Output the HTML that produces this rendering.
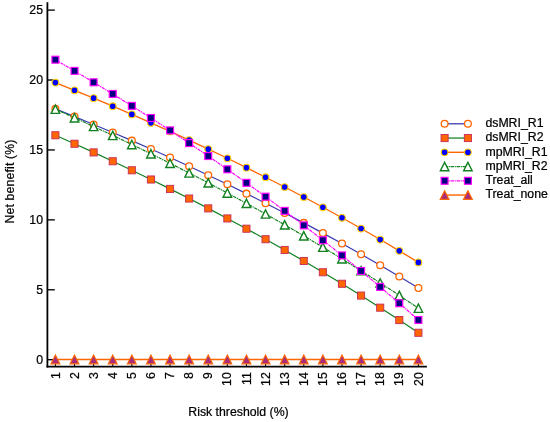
<!DOCTYPE html><html><head><meta charset="utf-8"><title>Decision curve</title><style>html,body{margin:0;padding:0;background:#fff}svg{display:block}text{font-family:"Liberation Sans",sans-serif;font-size:12.3px;fill:#000;stroke:#000;stroke-width:0.22px}</style></head><body>
<svg width="550" height="422" viewBox="0 0 550 422">
<rect width="550" height="422" fill="#fff"/>
<g stroke="#000" fill="none">
<line x1="47.4" y1="2.3" x2="47.4" y2="367.5" stroke-width="1.8"/>
<line x1="46.55" y1="366.65" x2="426.9" y2="366.65" stroke-width="1.7"/>
<line x1="47.35" y1="359.70" x2="54.8" y2="359.70" stroke-width="1.35"/>
<line x1="47.35" y1="289.78" x2="54.8" y2="289.78" stroke-width="1.35"/>
<line x1="47.35" y1="219.86" x2="54.8" y2="219.86" stroke-width="1.35"/>
<line x1="47.35" y1="149.94" x2="54.8" y2="149.94" stroke-width="1.35"/>
<line x1="47.35" y1="80.02" x2="54.8" y2="80.02" stroke-width="1.35"/>
<line x1="47.35" y1="10.10" x2="54.8" y2="10.10" stroke-width="1.35"/>
<line x1="55.40" y1="366" x2="55.40" y2="360.5" stroke-width="1.1"/>
<line x1="74.51" y1="366" x2="74.51" y2="360.5" stroke-width="1.1"/>
<line x1="93.61" y1="366" x2="93.61" y2="360.5" stroke-width="1.1"/>
<line x1="112.72" y1="366" x2="112.72" y2="360.5" stroke-width="1.1"/>
<line x1="131.82" y1="366" x2="131.82" y2="360.5" stroke-width="1.1"/>
<line x1="150.93" y1="366" x2="150.93" y2="360.5" stroke-width="1.1"/>
<line x1="170.03" y1="366" x2="170.03" y2="360.5" stroke-width="1.1"/>
<line x1="189.14" y1="366" x2="189.14" y2="360.5" stroke-width="1.1"/>
<line x1="208.24" y1="366" x2="208.24" y2="360.5" stroke-width="1.1"/>
<line x1="227.35" y1="366" x2="227.35" y2="360.5" stroke-width="1.1"/>
<line x1="246.45" y1="366" x2="246.45" y2="360.5" stroke-width="1.1"/>
<line x1="265.56" y1="366" x2="265.56" y2="360.5" stroke-width="1.1"/>
<line x1="284.66" y1="366" x2="284.66" y2="360.5" stroke-width="1.1"/>
<line x1="303.77" y1="366" x2="303.77" y2="360.5" stroke-width="1.1"/>
<line x1="322.87" y1="366" x2="322.87" y2="360.5" stroke-width="1.1"/>
<line x1="341.98" y1="366" x2="341.98" y2="360.5" stroke-width="1.1"/>
<line x1="361.08" y1="366" x2="361.08" y2="360.5" stroke-width="1.1"/>
<line x1="380.19" y1="366" x2="380.19" y2="360.5" stroke-width="1.1"/>
<line x1="399.29" y1="366" x2="399.29" y2="360.5" stroke-width="1.1"/>
<line x1="418.40" y1="366" x2="418.40" y2="360.5" stroke-width="1.1"/>
</g>
<text x="43" y="363.60" text-anchor="end">0</text>
<text x="43" y="293.68" text-anchor="end">5</text>
<text x="43" y="223.76" text-anchor="end">10</text>
<text x="43" y="153.84" text-anchor="end">15</text>
<text x="43" y="83.92" text-anchor="end">20</text>
<text x="43" y="14.00" text-anchor="end">25</text>
<text transform="translate(59.50,372.2) rotate(-90)" text-anchor="end">1</text>
<text transform="translate(78.61,372.2) rotate(-90)" text-anchor="end">2</text>
<text transform="translate(97.71,372.2) rotate(-90)" text-anchor="end">3</text>
<text transform="translate(116.82,372.2) rotate(-90)" text-anchor="end">4</text>
<text transform="translate(135.92,372.2) rotate(-90)" text-anchor="end">5</text>
<text transform="translate(155.03,372.2) rotate(-90)" text-anchor="end">6</text>
<text transform="translate(174.13,372.2) rotate(-90)" text-anchor="end">7</text>
<text transform="translate(193.24,372.2) rotate(-90)" text-anchor="end">8</text>
<text transform="translate(212.34,372.2) rotate(-90)" text-anchor="end">9</text>
<text transform="translate(231.45,372.2) rotate(-90)" text-anchor="end">10</text>
<text transform="translate(250.55,372.2) rotate(-90)" text-anchor="end">11</text>
<text transform="translate(269.66,372.2) rotate(-90)" text-anchor="end">12</text>
<text transform="translate(288.76,372.2) rotate(-90)" text-anchor="end">13</text>
<text transform="translate(307.87,372.2) rotate(-90)" text-anchor="end">14</text>
<text transform="translate(326.97,372.2) rotate(-90)" text-anchor="end">15</text>
<text transform="translate(346.08,372.2) rotate(-90)" text-anchor="end">16</text>
<text transform="translate(365.18,372.2) rotate(-90)" text-anchor="end">17</text>
<text transform="translate(384.29,372.2) rotate(-90)" text-anchor="end">18</text>
<text transform="translate(403.39,372.2) rotate(-90)" text-anchor="end">19</text>
<text transform="translate(422.50,372.2) rotate(-90)" text-anchor="end">20</text>
<text transform="translate(13.5,181.5) rotate(-90)" text-anchor="middle" letter-spacing="0.14">Net benefit (%)</text>
<text x="238.5" y="416.4" text-anchor="middle">Risk threshold (%)</text>
<polyline points="55.40,108.90 74.51,116.60 93.61,124.45 112.72,132.47 131.82,140.65 150.93,149.02 170.03,157.56 189.14,166.28 208.24,175.20 227.35,184.32 246.45,193.64 265.56,203.17 284.66,212.92 303.77,222.90 322.87,233.11 341.98,243.57 361.08,254.28 380.19,265.25 399.29,276.49 418.40,288.01" fill="none" stroke="#3A3AB0" stroke-width="1.2"/>
<circle cx="55.40" cy="108.90" r="3.4" fill="#fff" stroke="#FF6600" stroke-width="1.3"/><circle cx="74.51" cy="116.60" r="3.4" fill="#fff" stroke="#FF6600" stroke-width="1.3"/><circle cx="93.61" cy="124.45" r="3.4" fill="#fff" stroke="#FF6600" stroke-width="1.3"/><circle cx="112.72" cy="132.47" r="3.4" fill="#fff" stroke="#FF6600" stroke-width="1.3"/><circle cx="131.82" cy="140.65" r="3.4" fill="#fff" stroke="#FF6600" stroke-width="1.3"/><circle cx="150.93" cy="149.02" r="3.4" fill="#fff" stroke="#FF6600" stroke-width="1.3"/><circle cx="170.03" cy="157.56" r="3.4" fill="#fff" stroke="#FF6600" stroke-width="1.3"/><circle cx="189.14" cy="166.28" r="3.4" fill="#fff" stroke="#FF6600" stroke-width="1.3"/><circle cx="208.24" cy="175.20" r="3.4" fill="#fff" stroke="#FF6600" stroke-width="1.3"/><circle cx="227.35" cy="184.32" r="3.4" fill="#fff" stroke="#FF6600" stroke-width="1.3"/><circle cx="246.45" cy="193.64" r="3.4" fill="#fff" stroke="#FF6600" stroke-width="1.3"/><circle cx="265.56" cy="203.17" r="3.4" fill="#fff" stroke="#FF6600" stroke-width="1.3"/><circle cx="284.66" cy="212.92" r="3.4" fill="#fff" stroke="#FF6600" stroke-width="1.3"/><circle cx="303.77" cy="222.90" r="3.4" fill="#fff" stroke="#FF6600" stroke-width="1.3"/><circle cx="322.87" cy="233.11" r="3.4" fill="#fff" stroke="#FF6600" stroke-width="1.3"/><circle cx="341.98" cy="243.57" r="3.4" fill="#fff" stroke="#FF6600" stroke-width="1.3"/><circle cx="361.08" cy="254.28" r="3.4" fill="#fff" stroke="#FF6600" stroke-width="1.3"/><circle cx="380.19" cy="265.25" r="3.4" fill="#fff" stroke="#FF6600" stroke-width="1.3"/><circle cx="399.29" cy="276.49" r="3.4" fill="#fff" stroke="#FF6600" stroke-width="1.3"/><circle cx="418.40" cy="288.01" r="3.4" fill="#fff" stroke="#FF6600" stroke-width="1.3"/>
<polyline points="55.40,135.27 74.51,143.75 93.61,152.41 112.72,161.25 131.82,170.28 150.93,179.50 170.03,188.92 189.14,198.54 208.24,208.38 227.35,218.43 246.45,228.71 265.56,239.22 284.66,249.97 303.77,260.98 322.87,272.24 341.98,283.77 361.08,295.58 380.19,307.67 399.29,320.07 418.40,332.77" fill="none" stroke="#108020" stroke-width="1.25"/>
<rect x="51.85" y="131.72" width="7.1" height="7.1" fill="#FF6600" stroke="#C8305A" stroke-width="0.95"/><rect x="70.96" y="140.20" width="7.1" height="7.1" fill="#FF6600" stroke="#C8305A" stroke-width="0.95"/><rect x="90.06" y="148.86" width="7.1" height="7.1" fill="#FF6600" stroke="#C8305A" stroke-width="0.95"/><rect x="109.17" y="157.70" width="7.1" height="7.1" fill="#FF6600" stroke="#C8305A" stroke-width="0.95"/><rect x="128.27" y="166.73" width="7.1" height="7.1" fill="#FF6600" stroke="#C8305A" stroke-width="0.95"/><rect x="147.38" y="175.95" width="7.1" height="7.1" fill="#FF6600" stroke="#C8305A" stroke-width="0.95"/><rect x="166.48" y="185.37" width="7.1" height="7.1" fill="#FF6600" stroke="#C8305A" stroke-width="0.95"/><rect x="185.59" y="194.99" width="7.1" height="7.1" fill="#FF6600" stroke="#C8305A" stroke-width="0.95"/><rect x="204.69" y="204.83" width="7.1" height="7.1" fill="#FF6600" stroke="#C8305A" stroke-width="0.95"/><rect x="223.80" y="214.88" width="7.1" height="7.1" fill="#FF6600" stroke="#C8305A" stroke-width="0.95"/><rect x="242.90" y="225.16" width="7.1" height="7.1" fill="#FF6600" stroke="#C8305A" stroke-width="0.95"/><rect x="262.01" y="235.67" width="7.1" height="7.1" fill="#FF6600" stroke="#C8305A" stroke-width="0.95"/><rect x="281.11" y="246.42" width="7.1" height="7.1" fill="#FF6600" stroke="#C8305A" stroke-width="0.95"/><rect x="300.22" y="257.43" width="7.1" height="7.1" fill="#FF6600" stroke="#C8305A" stroke-width="0.95"/><rect x="319.32" y="268.69" width="7.1" height="7.1" fill="#FF6600" stroke="#C8305A" stroke-width="0.95"/><rect x="338.43" y="280.22" width="7.1" height="7.1" fill="#FF6600" stroke="#C8305A" stroke-width="0.95"/><rect x="357.53" y="292.03" width="7.1" height="7.1" fill="#FF6600" stroke="#C8305A" stroke-width="0.95"/><rect x="376.64" y="304.12" width="7.1" height="7.1" fill="#FF6600" stroke="#C8305A" stroke-width="0.95"/><rect x="395.74" y="316.52" width="7.1" height="7.1" fill="#FF6600" stroke="#C8305A" stroke-width="0.95"/><rect x="414.85" y="329.22" width="7.1" height="7.1" fill="#FF6600" stroke="#C8305A" stroke-width="0.95"/>
<polyline points="55.40,82.55 74.51,90.28 93.61,98.17 112.72,106.22 131.82,114.44 150.93,122.83 170.03,131.41 189.14,140.17 208.24,149.13 227.35,158.28 246.45,167.64 265.56,177.21 284.66,187.00 303.77,197.02 322.87,207.28 341.98,217.78 361.08,228.53 380.19,239.55 399.29,250.84 418.40,262.41" fill="none" stroke="#FF6600" stroke-width="1.3"/>
<circle cx="55.40" cy="82.55" r="3.35" fill="#0000FF" stroke="#FFD000" stroke-width="1.05"/><circle cx="74.51" cy="90.28" r="3.35" fill="#0000FF" stroke="#FFD000" stroke-width="1.05"/><circle cx="93.61" cy="98.17" r="3.35" fill="#0000FF" stroke="#FFD000" stroke-width="1.05"/><circle cx="112.72" cy="106.22" r="3.35" fill="#0000FF" stroke="#FFD000" stroke-width="1.05"/><circle cx="131.82" cy="114.44" r="3.35" fill="#0000FF" stroke="#FFD000" stroke-width="1.05"/><circle cx="150.93" cy="122.83" r="3.35" fill="#0000FF" stroke="#FFD000" stroke-width="1.05"/><circle cx="170.03" cy="131.41" r="3.35" fill="#0000FF" stroke="#FFD000" stroke-width="1.05"/><circle cx="189.14" cy="140.17" r="3.35" fill="#0000FF" stroke="#FFD000" stroke-width="1.05"/><circle cx="208.24" cy="149.13" r="3.35" fill="#0000FF" stroke="#FFD000" stroke-width="1.05"/><circle cx="227.35" cy="158.28" r="3.35" fill="#0000FF" stroke="#FFD000" stroke-width="1.05"/><circle cx="246.45" cy="167.64" r="3.35" fill="#0000FF" stroke="#FFD000" stroke-width="1.05"/><circle cx="265.56" cy="177.21" r="3.35" fill="#0000FF" stroke="#FFD000" stroke-width="1.05"/><circle cx="284.66" cy="187.00" r="3.35" fill="#0000FF" stroke="#FFD000" stroke-width="1.05"/><circle cx="303.77" cy="197.02" r="3.35" fill="#0000FF" stroke="#FFD000" stroke-width="1.05"/><circle cx="322.87" cy="207.28" r="3.35" fill="#0000FF" stroke="#FFD000" stroke-width="1.05"/><circle cx="341.98" cy="217.78" r="3.35" fill="#0000FF" stroke="#FFD000" stroke-width="1.05"/><circle cx="361.08" cy="228.53" r="3.35" fill="#0000FF" stroke="#FFD000" stroke-width="1.05"/><circle cx="380.19" cy="239.55" r="3.35" fill="#0000FF" stroke="#FFD000" stroke-width="1.05"/><circle cx="399.29" cy="250.84" r="3.35" fill="#0000FF" stroke="#FFD000" stroke-width="1.05"/><circle cx="418.40" cy="262.41" r="3.35" fill="#0000FF" stroke="#FFD000" stroke-width="1.05"/>
<polyline points="55.40,109.20 74.51,117.75 93.61,126.47 112.72,135.38 131.82,144.48 150.93,153.77 170.03,163.26 189.14,172.95 208.24,182.86 227.35,192.99 246.45,203.34 265.56,213.93 284.66,224.77 303.77,235.85 322.87,247.20 341.98,258.82 361.08,270.72 380.19,282.91 399.29,295.39 418.40,308.19" fill="none" stroke="#108020" stroke-width="1.2" stroke-dasharray="3.3 0.75 1.2 0.75"/>
<polygon points="55.40,105.00 59.65,113.40 51.15,113.40" fill="#fff" stroke="#108020" stroke-width="1.4" stroke-linejoin="miter"/><polygon points="74.51,113.55 78.76,121.95 70.26,121.95" fill="#fff" stroke="#108020" stroke-width="1.4" stroke-linejoin="miter"/><polygon points="93.61,122.27 97.86,130.67 89.36,130.67" fill="#fff" stroke="#108020" stroke-width="1.4" stroke-linejoin="miter"/><polygon points="112.72,131.18 116.97,139.58 108.47,139.58" fill="#fff" stroke="#108020" stroke-width="1.4" stroke-linejoin="miter"/><polygon points="131.82,140.28 136.07,148.68 127.57,148.68" fill="#fff" stroke="#108020" stroke-width="1.4" stroke-linejoin="miter"/><polygon points="150.93,149.57 155.18,157.97 146.68,157.97" fill="#fff" stroke="#108020" stroke-width="1.4" stroke-linejoin="miter"/><polygon points="170.03,159.06 174.28,167.46 165.78,167.46" fill="#fff" stroke="#108020" stroke-width="1.4" stroke-linejoin="miter"/><polygon points="189.14,168.75 193.39,177.15 184.89,177.15" fill="#fff" stroke="#108020" stroke-width="1.4" stroke-linejoin="miter"/><polygon points="208.24,178.66 212.49,187.06 203.99,187.06" fill="#fff" stroke="#108020" stroke-width="1.4" stroke-linejoin="miter"/><polygon points="227.35,188.79 231.60,197.19 223.10,197.19" fill="#fff" stroke="#108020" stroke-width="1.4" stroke-linejoin="miter"/><polygon points="246.45,199.14 250.70,207.54 242.20,207.54" fill="#fff" stroke="#108020" stroke-width="1.4" stroke-linejoin="miter"/><polygon points="265.56,209.73 269.81,218.13 261.31,218.13" fill="#fff" stroke="#108020" stroke-width="1.4" stroke-linejoin="miter"/><polygon points="284.66,220.57 288.91,228.97 280.41,228.97" fill="#fff" stroke="#108020" stroke-width="1.4" stroke-linejoin="miter"/><polygon points="303.77,231.65 308.02,240.05 299.52,240.05" fill="#fff" stroke="#108020" stroke-width="1.4" stroke-linejoin="miter"/><polygon points="322.87,243.00 327.12,251.40 318.62,251.40" fill="#fff" stroke="#108020" stroke-width="1.4" stroke-linejoin="miter"/><polygon points="341.98,254.62 346.23,263.02 337.73,263.02" fill="#fff" stroke="#108020" stroke-width="1.4" stroke-linejoin="miter"/><polygon points="361.08,266.52 365.33,274.92 356.83,274.92" fill="#fff" stroke="#108020" stroke-width="1.4" stroke-linejoin="miter"/><polygon points="380.19,278.71 384.44,287.11 375.94,287.11" fill="#fff" stroke="#108020" stroke-width="1.4" stroke-linejoin="miter"/><polygon points="399.29,291.19 403.54,299.59 395.04,299.59" fill="#fff" stroke="#108020" stroke-width="1.4" stroke-linejoin="miter"/><polygon points="418.40,304.00 422.65,312.39 414.15,312.39" fill="#fff" stroke="#108020" stroke-width="1.4" stroke-linejoin="miter"/>
<polyline points="55.40,59.70 74.51,70.88 93.61,82.30 112.72,93.95 131.82,105.85 150.93,118.00 170.03,130.41 189.14,143.09 208.24,156.05 227.35,169.30 246.45,182.84 265.56,196.69 284.66,210.87 303.77,225.37 322.87,240.21 341.98,255.41 361.08,270.97 380.19,286.91 399.29,303.25 418.40,319.99" fill="none" stroke="#FF00FF" stroke-width="1.2" stroke-dasharray="3.3 0.75 1.2 0.75"/>
<rect x="51.95" y="56.25" width="6.9" height="6.9" fill="#000080" stroke="#FF00FF" stroke-width="1.2"/><rect x="71.06" y="67.43" width="6.9" height="6.9" fill="#000080" stroke="#FF00FF" stroke-width="1.2"/><rect x="90.16" y="78.85" width="6.9" height="6.9" fill="#000080" stroke="#FF00FF" stroke-width="1.2"/><rect x="109.27" y="90.50" width="6.9" height="6.9" fill="#000080" stroke="#FF00FF" stroke-width="1.2"/><rect x="128.37" y="102.40" width="6.9" height="6.9" fill="#000080" stroke="#FF00FF" stroke-width="1.2"/><rect x="147.48" y="114.55" width="6.9" height="6.9" fill="#000080" stroke="#FF00FF" stroke-width="1.2"/><rect x="166.58" y="126.96" width="6.9" height="6.9" fill="#000080" stroke="#FF00FF" stroke-width="1.2"/><rect x="185.69" y="139.64" width="6.9" height="6.9" fill="#000080" stroke="#FF00FF" stroke-width="1.2"/><rect x="204.79" y="152.60" width="6.9" height="6.9" fill="#000080" stroke="#FF00FF" stroke-width="1.2"/><rect x="223.90" y="165.85" width="6.9" height="6.9" fill="#000080" stroke="#FF00FF" stroke-width="1.2"/><rect x="243.00" y="179.39" width="6.9" height="6.9" fill="#000080" stroke="#FF00FF" stroke-width="1.2"/><rect x="262.11" y="193.24" width="6.9" height="6.9" fill="#000080" stroke="#FF00FF" stroke-width="1.2"/><rect x="281.21" y="207.42" width="6.9" height="6.9" fill="#000080" stroke="#FF00FF" stroke-width="1.2"/><rect x="300.32" y="221.92" width="6.9" height="6.9" fill="#000080" stroke="#FF00FF" stroke-width="1.2"/><rect x="319.42" y="236.76" width="6.9" height="6.9" fill="#000080" stroke="#FF00FF" stroke-width="1.2"/><rect x="338.53" y="251.96" width="6.9" height="6.9" fill="#000080" stroke="#FF00FF" stroke-width="1.2"/><rect x="357.63" y="267.52" width="6.9" height="6.9" fill="#000080" stroke="#FF00FF" stroke-width="1.2"/><rect x="376.74" y="283.46" width="6.9" height="6.9" fill="#000080" stroke="#FF00FF" stroke-width="1.2"/><rect x="395.84" y="299.80" width="6.9" height="6.9" fill="#000080" stroke="#FF00FF" stroke-width="1.2"/><rect x="414.95" y="316.54" width="6.9" height="6.9" fill="#000080" stroke="#FF00FF" stroke-width="1.2"/>
<polyline points="55.40,359.45 74.51,359.45 93.61,359.45 112.72,359.45 131.82,359.45 150.93,359.45 170.03,359.45 189.14,359.45 208.24,359.45 227.35,359.45 246.45,359.45 265.56,359.45 284.66,359.45 303.77,359.45 322.87,359.45 341.98,359.45 361.08,359.45 380.19,359.45 399.29,359.45 418.40,359.45" fill="none" stroke="#FF6600" stroke-width="1.4"/>
<polygon points="55.40,355.10 59.80,363.80 51.00,363.80" fill="#A82C7C" stroke="#FF6600" stroke-width="1.15" stroke-linejoin="miter"/><polygon points="74.51,355.10 78.91,363.80 70.11,363.80" fill="#A82C7C" stroke="#FF6600" stroke-width="1.15" stroke-linejoin="miter"/><polygon points="93.61,355.10 98.01,363.80 89.21,363.80" fill="#A82C7C" stroke="#FF6600" stroke-width="1.15" stroke-linejoin="miter"/><polygon points="112.72,355.10 117.12,363.80 108.32,363.80" fill="#A82C7C" stroke="#FF6600" stroke-width="1.15" stroke-linejoin="miter"/><polygon points="131.82,355.10 136.22,363.80 127.42,363.80" fill="#A82C7C" stroke="#FF6600" stroke-width="1.15" stroke-linejoin="miter"/><polygon points="150.93,355.10 155.33,363.80 146.53,363.80" fill="#A82C7C" stroke="#FF6600" stroke-width="1.15" stroke-linejoin="miter"/><polygon points="170.03,355.10 174.43,363.80 165.63,363.80" fill="#A82C7C" stroke="#FF6600" stroke-width="1.15" stroke-linejoin="miter"/><polygon points="189.14,355.10 193.54,363.80 184.74,363.80" fill="#A82C7C" stroke="#FF6600" stroke-width="1.15" stroke-linejoin="miter"/><polygon points="208.24,355.10 212.64,363.80 203.84,363.80" fill="#A82C7C" stroke="#FF6600" stroke-width="1.15" stroke-linejoin="miter"/><polygon points="227.35,355.10 231.75,363.80 222.95,363.80" fill="#A82C7C" stroke="#FF6600" stroke-width="1.15" stroke-linejoin="miter"/><polygon points="246.45,355.10 250.85,363.80 242.05,363.80" fill="#A82C7C" stroke="#FF6600" stroke-width="1.15" stroke-linejoin="miter"/><polygon points="265.56,355.10 269.96,363.80 261.16,363.80" fill="#A82C7C" stroke="#FF6600" stroke-width="1.15" stroke-linejoin="miter"/><polygon points="284.66,355.10 289.06,363.80 280.26,363.80" fill="#A82C7C" stroke="#FF6600" stroke-width="1.15" stroke-linejoin="miter"/><polygon points="303.77,355.10 308.17,363.80 299.37,363.80" fill="#A82C7C" stroke="#FF6600" stroke-width="1.15" stroke-linejoin="miter"/><polygon points="322.87,355.10 327.27,363.80 318.47,363.80" fill="#A82C7C" stroke="#FF6600" stroke-width="1.15" stroke-linejoin="miter"/><polygon points="341.98,355.10 346.38,363.80 337.58,363.80" fill="#A82C7C" stroke="#FF6600" stroke-width="1.15" stroke-linejoin="miter"/><polygon points="361.08,355.10 365.48,363.80 356.68,363.80" fill="#A82C7C" stroke="#FF6600" stroke-width="1.15" stroke-linejoin="miter"/><polygon points="380.19,355.10 384.59,363.80 375.79,363.80" fill="#A82C7C" stroke="#FF6600" stroke-width="1.15" stroke-linejoin="miter"/><polygon points="399.29,355.10 403.69,363.80 394.89,363.80" fill="#A82C7C" stroke="#FF6600" stroke-width="1.15" stroke-linejoin="miter"/><polygon points="418.40,355.10 422.80,363.80 414.00,363.80" fill="#A82C7C" stroke="#FF6600" stroke-width="1.15" stroke-linejoin="miter"/>
<polyline points="444.60,123.80 467.90,123.80" fill="none" stroke="#3A3AB0" stroke-width="1.3"/>
<circle cx="444.60" cy="123.80" r="3.4" fill="#fff" stroke="#FF6600" stroke-width="1.3"/><circle cx="467.90" cy="123.80" r="3.4" fill="#fff" stroke="#FF6600" stroke-width="1.3"/>
<text x="485.4" y="127.10">dsMRI_R1</text>
<polyline points="444.60,138.05 467.90,138.05" fill="none" stroke="#108020" stroke-width="1.25"/>
<rect x="441.05" y="134.50" width="7.1" height="7.1" fill="#FF6600" stroke="#C8305A" stroke-width="0.95"/><rect x="464.35" y="134.50" width="7.1" height="7.1" fill="#FF6600" stroke="#C8305A" stroke-width="0.95"/>
<text x="485.4" y="141.35">dsMRI_R2</text>
<polyline points="444.60,152.30 467.90,152.30" fill="none" stroke="#FF6600" stroke-width="1.4"/>
<circle cx="444.60" cy="152.30" r="3.35" fill="#0000FF" stroke="#FFD000" stroke-width="1.05"/><circle cx="467.90" cy="152.30" r="3.35" fill="#0000FF" stroke="#FFD000" stroke-width="1.05"/>
<text x="485.4" y="155.60">mpMRI_R1</text>
<polyline points="444.60,166.55 467.90,166.55" fill="none" stroke="#108020" stroke-width="1.2" stroke-dasharray="3.3 0.75 1.2 0.75"/>
<polygon points="444.60,162.35 448.85,170.75 440.35,170.75" fill="#fff" stroke="#108020" stroke-width="1.4" stroke-linejoin="miter"/><polygon points="467.90,162.35 472.15,170.75 463.65,170.75" fill="#fff" stroke="#108020" stroke-width="1.4" stroke-linejoin="miter"/>
<text x="485.4" y="169.85">mpMRI_R2</text>
<polyline points="444.60,180.80 467.90,180.80" fill="none" stroke="#FF00FF" stroke-width="1.2" stroke-dasharray="3.3 0.75 1.2 0.75"/>
<rect x="441.15" y="177.35" width="6.9" height="6.9" fill="#000080" stroke="#FF00FF" stroke-width="1.2"/><rect x="464.45" y="177.35" width="6.9" height="6.9" fill="#000080" stroke="#FF00FF" stroke-width="1.2"/>
<text x="485.4" y="184.10">Treat_all</text>
<polyline points="444.60,195.05 467.90,195.05" fill="none" stroke="#FF6600" stroke-width="1.4"/>
<polygon points="444.60,190.70 449.00,199.40 440.20,199.40" fill="#A82C7C" stroke="#FF6600" stroke-width="1.15" stroke-linejoin="miter"/><polygon points="467.90,190.70 472.30,199.40 463.50,199.40" fill="#A82C7C" stroke="#FF6600" stroke-width="1.15" stroke-linejoin="miter"/>
<text x="485.4" y="198.35">Treat_none</text>
</svg></body></html>
